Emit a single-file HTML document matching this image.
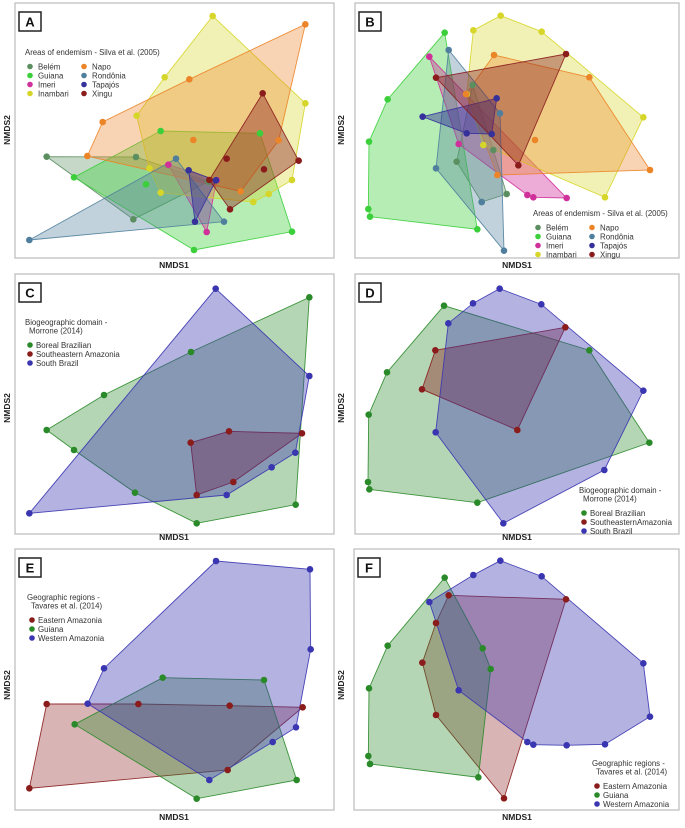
<!DOCTYPE html>
<html><head><meta charset="utf-8">
<style>
html,body{margin:0;padding:0;background:#fff;}
svg{display:block;font-family:"Liberation Sans",sans-serif;}
</style></head>
<body>
<svg id="fig" width="685" height="828" viewBox="0 0 685 828" xmlns="http://www.w3.org/2000/svg"></svg>
<script>
// ---- data (NMDS ordination coordinates, in plot units 0..~1020 horizontally, 0..~800 vertically per panel) ----
const panelLabels = ["A","B","C","D","E","F"];
const groupsAE = ["Belém","Guiana","Imeri","Inambari","Napo","Rondônia","Tapajós","Xingu"];
const colorsAE = ["#5b8f60","#3ccf3c","#d0309a","#d6d62a","#ec8428","#4f7f9c","#35309a","#8a1c1c"];
const groupsMor = ["Boreal Brazilian","Southeastern Amazonia","South Brazil"];
const groupsTav = ["Eastern Amazonia","Guiana","Western Amazonia"];
const colors3 = ["#2a8a2a","#8a1c1c","#3a35b0"];
const colorsTav = ["#8a1c1c","#2a8a2a","#3a35b0"];

const A_Inambari=[[638,48],[916,310],[876,540],[806,582],[760,606],[482,578],[448,505],[410,347],[494,232]];
const A_Napo=[[916,73],[836,421],[722,574],[262,468],[308,366],[568,238],[580,420]];
const A_Guiana=[[482,393],[780,400],[876,695],[582,750],[222,532],[438,553]];
const A_Belem=[[140,470],[408,471],[625,545],[400,658]];
const A_Rondonia=[[88,720],[528,476],[672,665]];
const A_Imeri=[[505,494],[650,540],[620,696]];
const A_Tapajos=[[566,511],[648,541],[585,665]];
const A_Xingu=[[788,280],[896,482],[690,628],[628,540],[680,476],[792,508]];

const B_Guiana=[[314,98],[412,688],[90,650],[85,627],[87,425],[143,298]];
const B_Inambari=[[400,91],[482,47],[605,95],[910,352],[795,592],[430,435],[380,282]];
const B_Napo=[[462,165],[748,232],[930,510],[472,525],[378,282],[585,420]];
const B_Rondonia=[[326,150],[480,340],[492,752],[425,606],[288,505]];
const B_Belem=[[398,255],[460,450],[500,582],[425,606],[350,485]];
const B_Imeri=[[268,170],[680,594],[580,592],[562,585],[356,432]];
const B_Tapajos=[[248,350],[470,295],[455,402],[380,400]];
const B_Xingu=[[288,233],[678,162],[535,496]];

const C_Boreal=[[928,82],[887,704],[590,760],[405,668],[222,540],[140,480],[312,375],[573,246]];
const C_SEAmaz=[[572,518],[687,484],[906,490],[700,636],[590,675]];
const C_SouthBr=[[647,56],[928,318],[886,548],[815,592],[680,675],[88,730]];

const D_Boreal=[[312,107],[748,241],[928,518],[412,698],[88,658],[84,636],[86,434],[141,307]];
const D_SEAmaz=[[286,241],[676,172],[532,480],[246,358]];
const D_SouthBr=[[479,56],[604,103],[910,362],[793,600],[490,760],[287,487],[325,160],[399,100]];

const E_Eastern=[[140,492],[415,492],[689,497],[908,502],[683,690],[88,745]];
const E_Guiana=[[488,413],[792,420],[890,720],[590,776],[224,553]];
const E_Western=[[648,63],[930,88],[932,328],[888,562],[818,606],[628,720],[263,491],[312,385]];

const F_Eastern=[[326,166],[678,178],[492,775],[288,525],[247,368],[288,249]];
const F_Guiana=[[314,113],[428,325],[452,387],[415,712],[90,672],[85,648],[87,445],[143,317]];
const F_Western=[[481,62],[605,109],[910,370],[930,530],[795,613],[680,616],[580,614],[562,606],[356,451],[268,186],[400,105]];

const NS="http://www.w3.org/2000/svg";
const svg=document.getElementById("fig");
function mk(tag,attrs,parent){const e=document.createElementNS(NS,tag);for(const k in attrs)e.setAttribute(k,attrs[k]);(parent||svg).appendChild(e);return e;}

const panels=[
 {ox:0,oy:0,frame:[15,3,334,258],xl:[174,268],yl:130},
 {ox:340,oy:0,frame:[355,3,679,258],xl:[517,268],yl:130},
 {ox:0,oy:270,frame:[15,274,334,534],xl:[174,540],yl:408},
 {ox:340,oy:270,frame:[355,274,679,534],xl:[517,540],yl:408},
 {ox:0,oy:540,frame:[15,549,334,810],xl:[174,820],yl:685},
 {ox:340,oy:540,frame:[354,549,679,810],xl:[517,820],yl:685}
];
function xScale(p,v){return p.ox+v/3;}
function yScale(p,v){return p.oy+v/3;}

function hull(pts){
 const P=pts.slice().sort((a,b)=>a[0]-b[0]||a[1]-b[1]);
 const cr=(o,a,b)=>(a[0]-o[0])*(b[1]-o[1])-(a[1]-o[1])*(b[0]-o[0]);
 const lo=[],up=[];
 for(const p of P){while(lo.length>=2&&cr(lo[lo.length-2],lo[lo.length-1],p)<=0)lo.pop();lo.push(p);}
 for(const p of P.reverse()){while(up.length>=2&&cr(up[up.length-2],up[up.length-1],p)<=0)up.pop();up.push(p);}
 return lo.slice(0,-1).concat(up.slice(0,-1));
}

function drawPanel(i){
 const p=panels[i];
 const g=mk("g",{});
 
 
 const f=p.frame;
 const fr=mk("rect",{x:f[0],y:f[1],width:f[2]-f[0],height:f[3]-f[1],fill:"#fff",stroke:"#bbb","stroke-width":1.2},g);
 
 
 const lb=mk("rect",{x:f[0]+4,y:f[1]+9,width:22,height:19,fill:"#fff",stroke:"#222","stroke-width":1.5},g);
 
 
 const lt=mk("text",{x:f[0]+15,y:f[1]+23.5,"text-anchor":"middle","font-size":13,"font-weight":"bold",fill:"#111"},g);
 lt.textContent=panelLabels[i];
 
 
 const xt=mk("text",{x:p.xl[0],y:p.xl[1],"text-anchor":"middle","font-size":8.5,"font-weight":"bold",fill:"#222"},g);
 xt.textContent="NMDS1";
 
 
 const yt=mk("text",{x:0,y:0,transform:`translate(${i%2?344:10},${p.yl}) rotate(-90)`,"text-anchor":"middle","font-size":8.5,"font-weight":"bold",fill:"#222"},g);
 yt.textContent="NMDS2";
 
 
 return g;
}

function drawGroup(i,g,pts,color,name,fillOp){
 const p=panels[i];
 const h=hull(pts);
 const poly=mk("polygon",{points:h.map(q=>xScale(p,q[0])+","+yScale(p,q[1])).join(" "),fill:color,"fill-opacity":fillOp,stroke:color,"stroke-width":0.9,"stroke-opacity":0.9},g);
 
 
 return ()=>{for(const q of pts){const c=mk("circle",{cx:xScale(p,q[0]),cy:yScale(p,q[1]),r:3.3,fill:color},g);
  
  }};
}

function legend(g,x,y,titleLines,names,cols,twoCol){
 const lg=mk("g",{},g);
 
 
 titleLines.forEach((t,k)=>{const e=mk("text",{x:x+(k?4:0),y:y+k*8.5,"font-size":7.8,fill:"#333"},lg);e.textContent=t;
  
  });
 const y0=y+titleLines.length*8.5+3;
 names.forEach((n,k)=>{
  const col=twoCol?Math.floor(k/4):0,row=twoCol?k%4:k;
  const cx=x+(twoCol?5+col*54:5), cy=y0+row*9;
  const d=mk("circle",{cx:cx,cy:cy,r:2.8,fill:cols[k]},lg);
  
  
  const t=mk("text",{x:cx+(twoCol?8:6),y:cy+3,"font-size":7.9,fill:"#333"},lg);t.textContent=n;
  
  
 });
}

function render(i,sets,names,cols,op){
 const g=drawPanel(i);
 const dots=sets.map((s,k)=>drawGroup(i,g,s,cols[k],names[k].toLowerCase().replace(/[^a-zà-ú]+/g,'-'),op[k]));
 dots.forEach(d=>d());
 return g;
}

const opAE=[0.35,0.38,0.4,0.35,0.35,0.35,0.45,0.4];
const gA=render(0,[A_Belem,A_Guiana,A_Imeri,A_Inambari,A_Napo,A_Rondonia,A_Tapajos,A_Xingu],groupsAE,colorsAE,opAE);
legend(gA,25,55,["Areas of endemism - Silva et al. (2005)"],groupsAE,colorsAE,true);
const gB=render(1,[B_Belem,B_Guiana,B_Imeri,B_Inambari,B_Napo,B_Rondonia,B_Tapajos,B_Xingu],groupsAE,colorsAE,opAE);
legend(gB,533,216,["Areas of endemism - Silva et al. (2005)"],groupsAE,colorsAE,true);
const gC=render(2,[C_Boreal,C_SEAmaz,C_SouthBr],groupsMor,colors3,[0.35,0.4,0.38]);
legend(gC,25,325,["Biogeographic domain -","Morrone (2014)"],groupsMor,colors3,false);
const gD=render(3,[D_Boreal,D_SEAmaz,D_SouthBr],["Boreal Brazilian","SoutheasternAmazonia","South Brazil"],colors3,[0.35,0.4,0.38]);
legend(gD,579,493,["Biogeographic domain -","Morrone (2014)"],["Boreal Brazilian","SoutheasternAmazonia","South Brazil"],colors3,false);
const gE=render(4,[E_Eastern,E_Guiana,E_Western],groupsTav,colorsTav,[0.33,0.35,0.38]);
legend(gE,27,600,["Geographic regions -","Tavares et al. (2014)"],groupsTav,colorsTav,false);
const gF=render(5,[F_Eastern,F_Guiana,F_Western],groupsTav,colorsTav,[0.33,0.35,0.38]);
legend(gF,592,766,["Geographic regions -","Tavares et al. (2014)"],groupsTav,colorsTav,false);
</script>
</body></html>
